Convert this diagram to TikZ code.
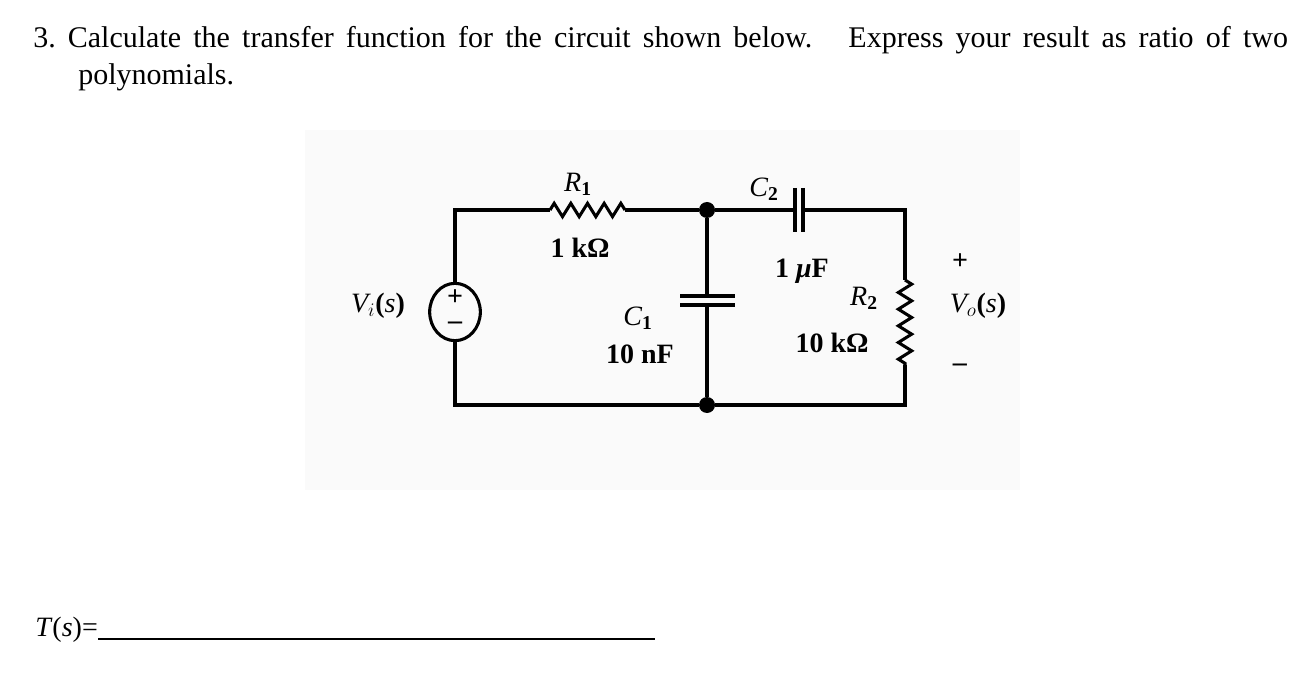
\documentclass[tikz,border=0pt]{standalone}
\usepackage{fontspec}
\setmainfont{Liberation Serif}
\usetikzlibrary{decorations.pathmorphing,shapes.geometric}
\begin{document}
\begin{tikzpicture}[x=0.75pt,y=-0.75pt,
  wire/.style={line width=2.6pt},
  lbl/.style={font=\fontsize{21}{24}\selectfont,inner sep=0pt},
  ttl/.style={font=\fontsize{22.5}{26}\selectfont,inner sep=0pt,anchor=base west},
  zig/.style={line width=2.3pt,decorate,decoration={zigzag,segment length=12.5pt,amplitude=5pt}},
  dot/.style={circle,fill=black,inner sep=0pt,minimum size=12pt}]
\useasboundingbox (0,0) rectangle (1316,673);
\fill[black!2] (305,130) rectangle (1020,490);
\node[ttl] (t1) at (33,48) {\makebox[941pt][s]{3.\ Calculate the transfer function for the circuit shown below. \ Express your result as ratio of two}};
\node[ttl] (t2) at (78,85) {polynomials.};
% nodes
\coordinate (tl) at (455,210); \coordinate (bl) at (455,405);
\node[dot] (nt) at (707,210) {}; \node[dot] (nb) at (707,405) {};
\coordinate (tr) at (905,210); \coordinate (br) at (905,405);
\node[draw,line width=2.3pt,ellipse,minimum width=38pt,minimum height=43pt,inner sep=0pt] (src) at (455,312) {};
\node[font=\fontsize{21}{22}\selectfont\bfseries] (pl) at (455,298) {+};
\node[font=\fontsize{21}{22}\selectfont\bfseries] (mi) at (455,326) {\textendash};
\coordinate (r1a) at (550,210); \coordinate (r1b) at (625,210);
\coordinate (c1a) at (707,296); \coordinate (c1b) at (707,305);
\coordinate (c2a) at (795,210); \coordinate (c2b) at (803,210);
\coordinate (r2a) at (905,280); \coordinate (r2b) at (905,365);
% wires
\draw[wire] (src.north) |- (tl) -- (r1a);
\draw[zig] (r1a) -- (r1b);
\draw[wire] (r1b) -- (nt) -- (c2a);
\draw[wire] (c2b) -- (tr) -- (r2a);
\draw[zig] (r2a) -- (r2b);
\draw[wire] (r2b) -- (br) -- (nb) -- (bl) -- (src.south);
\draw[wire] (nt) -- (c1a); \draw[wire] (c1b) -- (nb);
\draw[wire] (680,296) -- (735,296); \draw[wire] (680,305) -- (735,305);
\draw[wire] (795,188) -- (795,232); \draw[wire] (803,188) -- (803,232);
% labels
\node[lbl] (lr1) at (578,184) {\textit{R}$_{\mathbf 1}$};
\node[lbl] (lr1v) at (580,248) {\textbf{1 kΩ}};
\node[lbl] (lc2) at (764,189) {\textit{C}$_{\mathbf 2}$};
\node[lbl] (lc2v) at (802,271) {\textbf{1 \textit{μ}F}};
\node[lbl] (lc1) at (638,318) {\textit{C}$_{\mathbf 1}$};
\node[lbl] (lc1v) at (640,354) {\textbf{10 nF}};
\node[lbl] (lr2) at (864,298) {\textit{R}$_{\mathbf 2}$};
\node[lbl] (lr2v) at (832,343) {\textbf{10 kΩ}};
\node[lbl] (lvi) at (378,306) {\textit{V$_i$}\textbf{(}\textit{s}\textbf{)}};
\node[lbl] (lvo) at (978,306) {\textit{V$_o$}\textbf{(}\textit{s}\textbf{)}};
\node[lbl] (vp) at (960,262) {\textbf{+}};
\node[lbl] (vm) at (960,368) {\textbf{\textendash}};
\node[font=\fontsize{21}{24}\selectfont,inner sep=0pt,anchor=base west] (ts) at (35,636) {\textit{T}(\textit{s})=};
\draw[line width=0.8pt] (ts.base east) ++(0,3) -- (655,639);
\end{tikzpicture}
\end{document}
